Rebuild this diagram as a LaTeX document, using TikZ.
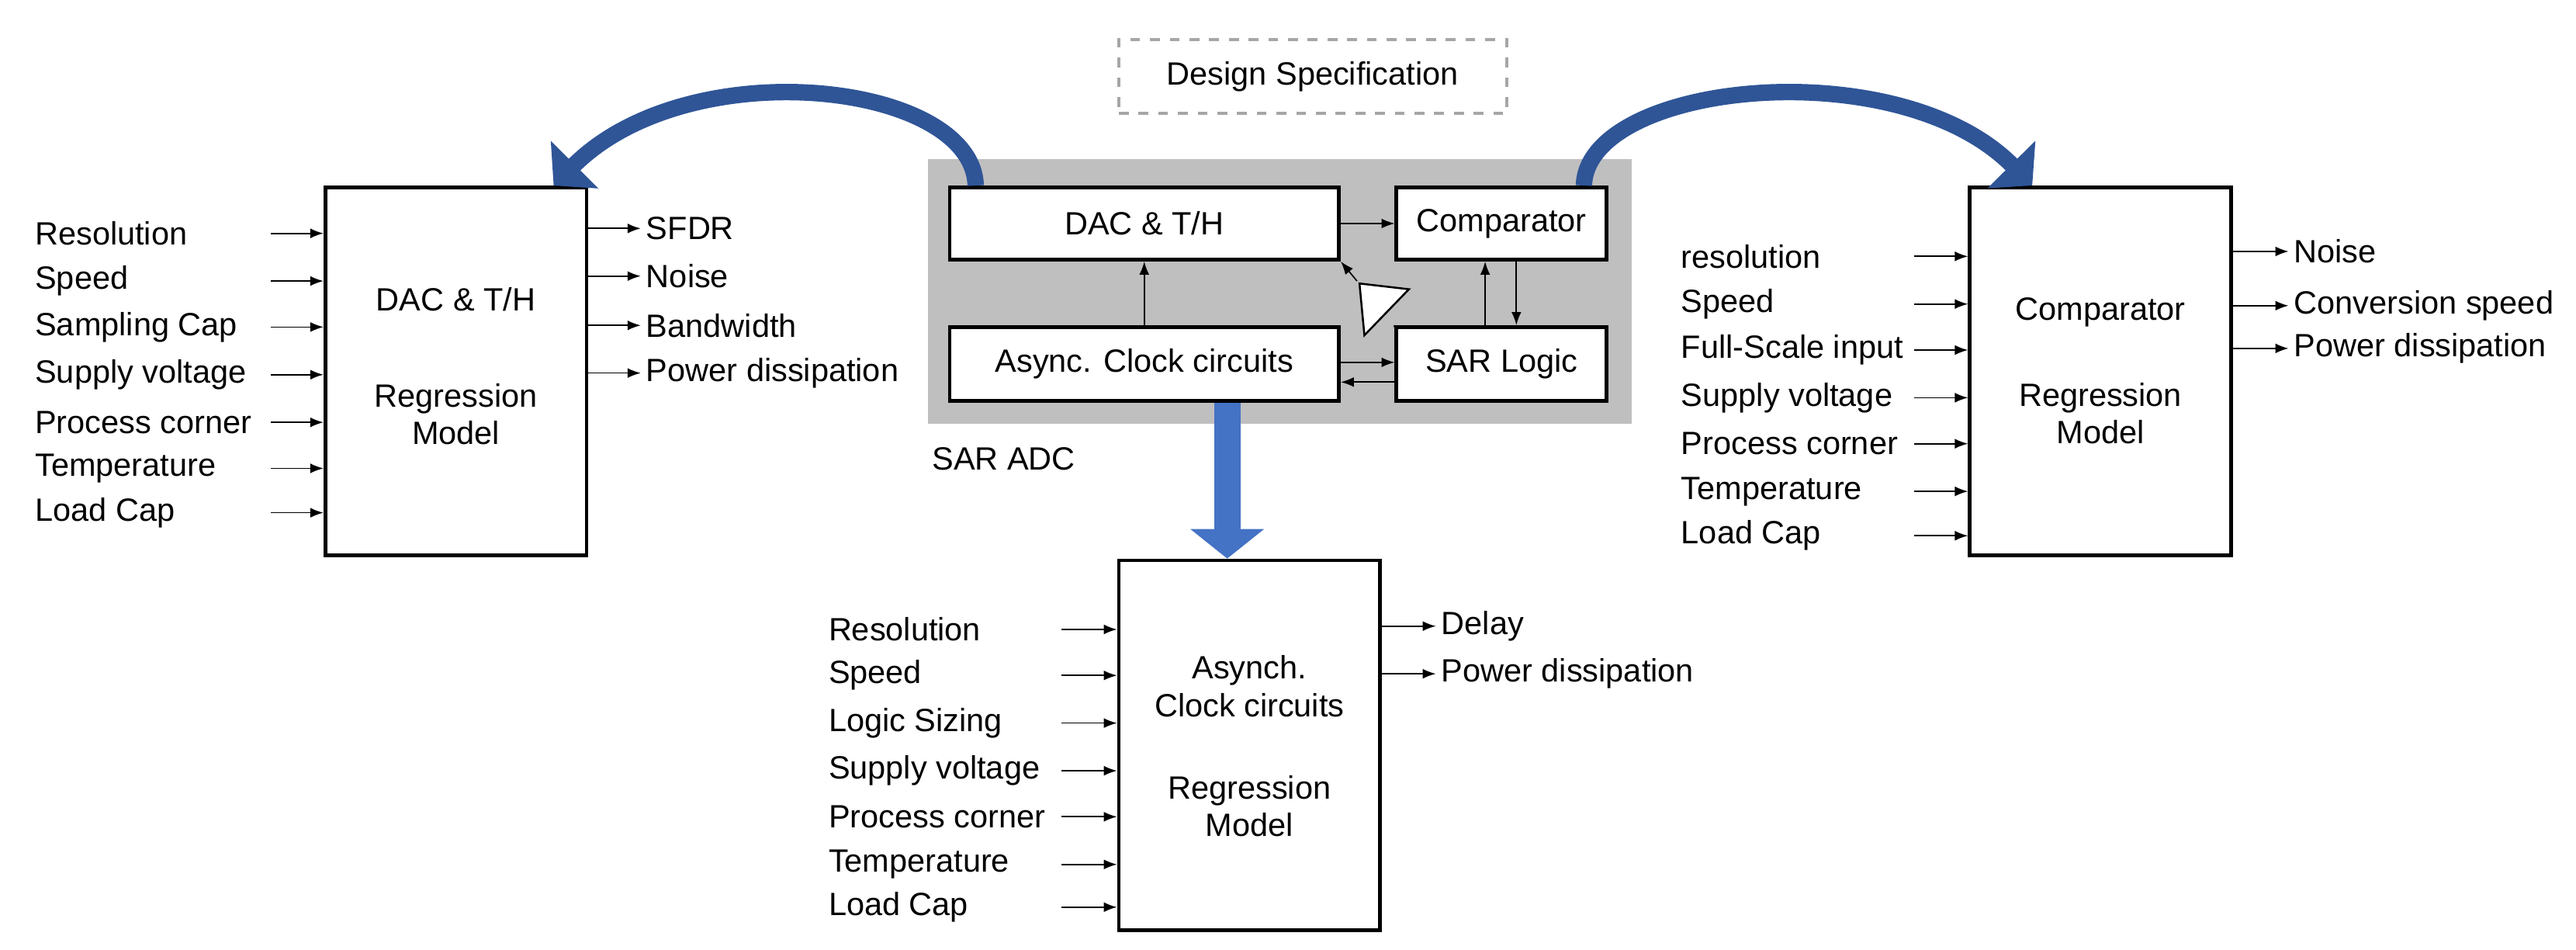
\documentclass[tikz,border=0pt]{standalone}
\usepackage{fontspec}
\setmainfont{Liberation Sans}
\usetikzlibrary{arrows.meta}
\definecolor{flow}{RGB}{68,114,196}
\definecolor{flowdark}{RGB}{47,85,151}
\definecolor{panel}{RGB}{191,191,191}
\tikzset{
  blk/.style={draw=black, line width=1.1pt, fill=white, inner sep=0pt, font=\fontsize{9.8}{11.5}\selectfont, align=center},
  lbl/.style={anchor=west, inner sep=0pt, font=\fontsize{9.8}{11}\selectfont},
  txt/.style={font=\fontsize{9.8}{11.5}\selectfont, align=center},
  io/.style={-{Latex[length=4pt,width=3pt]}, line width=0.4pt},
  big/.style={line width=5pt, draw=flowdark, -{Triangle[length=9pt,width=20pt]}},
}
\begin{document}
\begin{tikzpicture}[x=0.5pt,y=-0.5pt]
\useasboundingbox (0,0) rectangle (1568,578);
% design spec
\node[draw=black!35, dashed, line width=1pt, minimum width=118pt, minimum height=22.5pt, font=\fontsize{9.8}{11}\selectfont] (spec) at (799,46.5) {Design Specification};
% SAR ADC panel
\fill[panel] (565,97) rectangle (993,258);
\node[lbl] (sarlbl) at (567,279) {SAR ADC};
\node[blk, minimum width=118.5pt, minimum height=22pt] (dac) at (696.5,136) {DAC \& T/H};
\node[blk, minimum width=64pt, minimum height=22pt] (cmp) at (914,136) {Comparator};
\node[blk, minimum width=118.5pt, minimum height=22.5pt] (clk) at (696.5,221.5) {Async. Clock circuits};
\node[blk, minimum width=64pt, minimum height=22.5pt] (sar) at (914,221.5) {SAR Logic};
\draw[io] (dac.east) -- (cmp.west);
\draw[io] ([yshift=0.5pt]clk.east) -- ([yshift=0.5pt]sar.west);
\draw[io] ([yshift=-5.5pt]sar.west) -- ([yshift=-5.5pt]clk.east);
\draw[io] (clk.north) -- (dac.south);
\draw[io] ([xshift=-5pt]sar.north) -- ([xshift=-5pt]cmp.south);
\draw[io] ([xshift=4.5pt]cmp.south) -- ([xshift=4.5pt]sar.north);
% buffer triangle
\draw[fill=white, line width=0.6pt] (827.5,172.5) -- (857.6,176) -- (830.5,204) -- cycle;
\coordinate (bin) at (848.5,199);
\coordinate (bout) at (826,171);
\draw[line width=0.4pt] (sar.north west) -- (bin);
\draw[io] (bout) -- (dac.south east);
% regression boxes
\node[blk, minimum width=79.5pt, minimum height=112pt] (mdac) at (277.5,226) {};
\node[txt] (mdact) at (277.5,182) {DAC \& T/H};
\node[txt] (mdacr) at (277.5,252) {Regression\\Model};
\node[blk, minimum width=79.5pt, minimum height=112pt] (mcmp) at (1278.5,226) {};
\node[txt] (mcmpt) at (1278.5,190) {Comparator};
\node[txt] (mcmpr) at (1278.5,251.5) {Regression\\Model};
\node[blk, minimum width=79.5pt, minimum height=112.5pt] (mclk) at (760.5,453.5) {};
\node[txt] (mclkt) at (760.5,417.5) {Asynch.\\Clock circuits};
\node[txt] (mclkr) at (760.5,490.5) {Regression\\Model};
% inputs / outputs
\foreach \t [count=\i] in {Resolution,Speed,Sampling Cap,Supply voltage,Process corner,Temperature,Load Cap}{
  \pgfmathsetmacro{\yy}{{142,171,199,228,257,285,312}[\i-1]}
  \node[lbl] (a\i) at (21,\yy) {\t};
  \coordinate (as\i) at (165,\yy);
  \draw[io] (as\i) -- (mdac.west |- as\i);
}
\foreach \t [count=\i] in {SFDR,Noise,Bandwidth,Power dissipation}{
  \pgfmathsetmacro{\yy}{{139,168,198,227}[\i-1]}
  \node[lbl] (ao\i) at (393,\yy) {\t};
  \draw[io] (mdac.east |- ao\i) -- ([xshift=-1.5pt]ao\i.west);
}
\foreach \t [count=\i] in {resolution,Speed,Full-Scale input,Supply voltage,Process corner,Temperature,Load Cap}{
  \pgfmathsetmacro{\yy}{{156,185,213,242,270,299,326}[\i-1]}
  \node[lbl] (c\i) at (1023,\yy) {\t};
  \coordinate (cs\i) at (1165,\yy);
  \draw[io] (cs\i) -- (mcmp.west |- cs\i);
}
\foreach \t [count=\i] in {Noise,Conversion speed,Power dissipation}{
  \pgfmathsetmacro{\yy}{{153,186,212}[\i-1]}
  \node[lbl] (co\i) at (1396,\yy) {\t};
  \draw[io] (mcmp.east |- co\i) -- ([xshift=-1.5pt]co\i.west);
}
\foreach \t [count=\i] in {Resolution,Speed,Logic Sizing,Supply voltage,Process corner,Temperature,Load Cap}{
  \pgfmathsetmacro{\yy}{{383,411,440,469,497,526,552}[\i-1]}
  \node[lbl] (k\i) at (504,\yy) {\t};
  \coordinate (ks\i) at (646,\yy);
  \draw[io] (ks\i) -- (mclk.west |- ks\i);
}
\foreach \t [count=\i] in {Delay,Power dissipation}{
  \pgfmathsetmacro{\yy}{{381,410}[\i-1]}
  \node[lbl] (ko\i) at (877,\yy) {\t};
  \draw[io] (mclk.east |- ko\i) -- ([xshift=-1.5pt]ko\i.west);
}
% big flow arrows
\draw[big] ([xshift=8.5pt]dac.north west) .. controls (592,50) and (420,30) .. (mdac.north -| 337,0);
\draw[big] ([xshift=-7.5pt]cmp.north east) .. controls (966,50) and (1155,30) .. (mcmp.north -| 1237,0);
\draw[line width=8pt, draw=flow, -{Triangle[length=9pt,width=22pt]}] (clk.south -| 747,0) -- (mclk.north -| 747,0);
\end{tikzpicture}
\end{document}
